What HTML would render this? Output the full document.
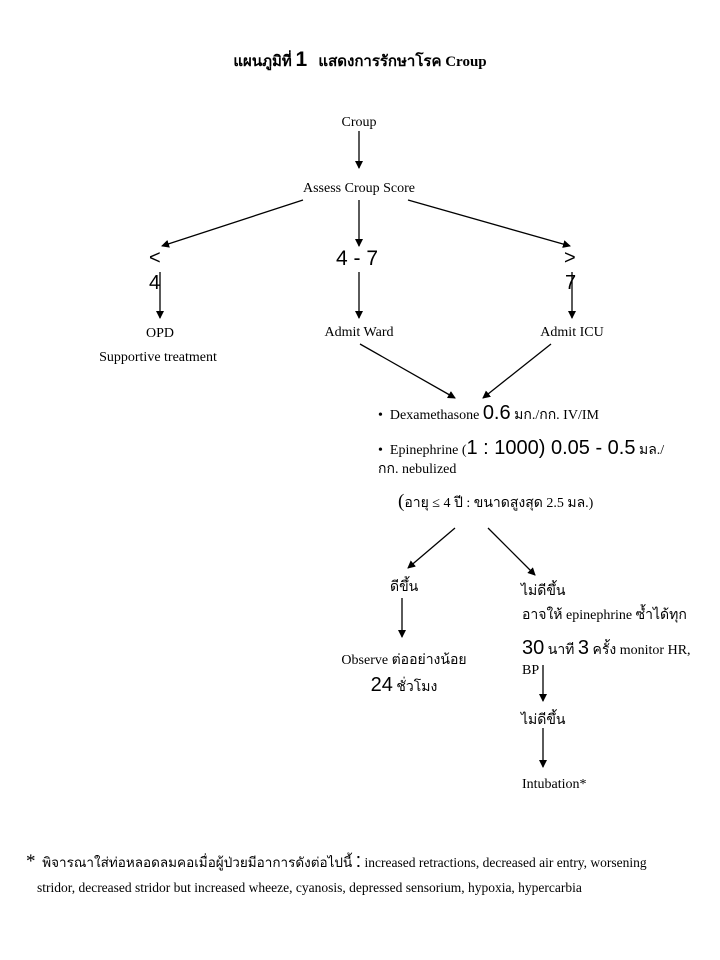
<!DOCTYPE html>
<html><head><meta charset="utf-8"><style>
html,body{margin:0;padding:0;background:#fff;}
body{width:720px;height:960px;position:relative;overflow:hidden;font-family:"Liberation Serif",serif;font-size:14px;color:#000;}
.t{position:absolute;white-space:nowrap;line-height:18px;margin-top:2px;}
.c{transform:translateX(-50%);}
.s{font-family:"Liberation Sans",sans-serif;font-size:20px;}
svg{position:absolute;left:0;top:0;}
</style></head><body>
<svg width="720" height="960" viewBox="0 0 720 960">
<defs><marker id="a" markerWidth="8" markerHeight="8" refX="7" refY="4" orient="auto" markerUnits="userSpaceOnUse"><path d="M0,0 L8,4 L0,8 z" fill="#000"/></marker></defs>
<g stroke="#000" stroke-width="1.3" fill="none" marker-end="url(#a)">
<line x1="359" y1="131" x2="359" y2="168"/>
<line x1="303" y1="200" x2="162" y2="246"/>
<line x1="359" y1="200" x2="359" y2="246"/>
<line x1="408" y1="200" x2="570" y2="246"/>
<line x1="160" y1="272" x2="160" y2="318"/>
<line x1="359" y1="272" x2="359" y2="318"/>
<line x1="572" y1="272" x2="572" y2="318"/>
<line x1="360" y1="344" x2="455" y2="398"/>
<line x1="551" y1="344" x2="483" y2="398"/>
<line x1="455" y1="528" x2="408" y2="568"/>
<line x1="488" y1="528" x2="535" y2="575"/>
<line x1="402" y1="598" x2="402" y2="637"/>
<line x1="543" y1="665" x2="543" y2="701"/>
<line x1="543" y1="728" x2="543" y2="767"/>
</g></svg>
<div class="t c" style="left:360px;top:49px;font-weight:bold;font-size:15px;">แผนภูมิที่ <span style="font-family:'Liberation Sans',sans-serif;font-size:21px;">1</span> &nbsp; แสดงการรักษาโรค Croup</div>
<div class="t c" style="left:359px;top:112px;">Croup</div>
<div class="t c" style="left:359px;top:178px;">Assess Croup Score</div>
<div class="t s" style="left:149px;top:247px;">&lt;</div>
<div class="t s" style="left:149px;top:272px;">4</div>
<div class="t c s" style="left:357px;top:248px;font-size:21px;">4 - 7</div>
<div class="t s" style="left:564px;top:247px;">&gt;</div>
<div class="t s" style="left:565px;top:272px;">7</div>
<div class="t c" style="left:160px;top:323px;">OPD</div>
<div class="t c" style="left:158px;top:347px;">Supportive treatment</div>
<div class="t c" style="left:359px;top:322px;">Admit Ward</div>
<div class="t c" style="left:572px;top:322px;">Admit ICU</div>
<div class="t" style="left:378px;top:402px;">• &nbsp;Dexamethasone <span class="s">0.6</span> มก./กก. IV/IM</div>
<div class="t" style="left:378px;top:437px;">• &nbsp;Epinephrine (<span class="s">1 : 1000) 0.05 - 0.5</span> มล./</div>
<div class="t" style="left:378px;top:459px;">กก. nebulized</div>
<div class="t" style="left:398px;top:491px;"><span style="font-size:19px;">(</span>อายุ ≤ 4 ปี : ขนาดสูงสุด 2.5 มล.)</div>
<div class="t" style="left:390px;top:577px;">ดีขึ้น</div>
<div class="t" style="left:521px;top:581px;">ไม่ดีขึ้น</div>
<div class="t" style="left:522px;top:605px;">อาจให้ epinephrine ซ้ำได้ทุก</div>
<div class="t" style="left:522px;top:637px;"><span class="s">30</span> นาที <span class="s">3</span> ครั้ง monitor HR,</div>
<div class="t" style="left:522px;top:660px;">BP</div>
<div class="t c" style="left:404px;top:650px;">Observe ต่ออย่างน้อย</div>
<div class="t c" style="left:404px;top:674px;"><span class="s">24</span> ชั่วโมง</div>
<div class="t" style="left:521px;top:710px;">ไม่ดีขึ้น</div>
<div class="t" style="left:522px;top:774px;">Intubation*</div>
<div class="t" style="left:26px;top:850px;font-size:13.5px;"><span style="font-size:19px;">*</span> &nbsp;พิจารณาใส่ท่อหลอดลมคอเมื่อผู้ป่วยมีอาการดังต่อไปนี้ <span class="s">:</span> increased retractions, decreased air entry, worsening</div>
<div class="t" style="left:37px;top:877px;font-size:13.5px;">stridor, decreased stridor but increased wheeze, cyanosis, depressed sensorium, hypoxia, hypercarbia</div>
</body></html>
